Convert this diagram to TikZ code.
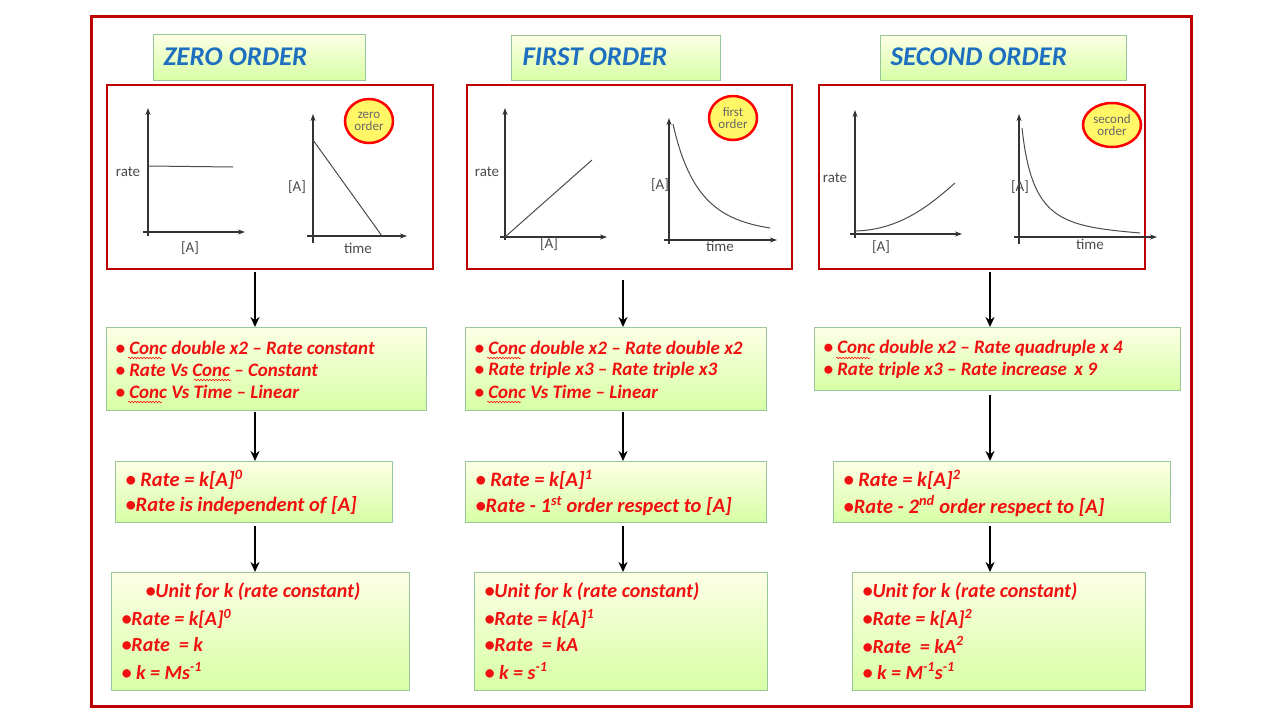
\documentclass[tikz,border=0pt]{standalone}
\usepackage{fontspec}
\setmainfont{Carlito}
\usetikzlibrary{arrows.meta,decorations.pathmorphing,shapes.geometric}
\definecolor{rd}{HTML}{C00000}
\definecolor{tx}{HTML}{F01010}
\definecolor{bl}{HTML}{1F6FC0}
\tikzset{
 gbox/.style={draw=green!45!black!40, top color=green!8!yellow!10, bottom color=green!45!yellow!35!white, anchor=north west, inner sep=0pt},
 rbox/.style={draw=rd, line width=2pt, fill=white, anchor=north west, inner sep=0pt},
 ttl/.style={font=\fontsize{27}{27}\selectfont\bfseries\itshape, text=bl},
 ln/.style={font=\fontsize{19}{19}\selectfont\bfseries\itshape, text=tx, anchor=west},
 lnb/.style={font=\fontsize{20.5}{20}\selectfont\bfseries\itshape, text=tx, anchor=west},
 lnc/.style={font=\fontsize{20}{20}\selectfont\bfseries\itshape, text=tx, anchor=west},
 arr/.style={-{Stealth[length=10pt,width=9pt]}, line width=2.2pt},
 ax/.style={-{Stealth[length=7pt,width=5pt]}, line width=1.2pt, black!80},
 crv/.style={line width=1pt, black!70},
 gl/.style={font=\fontsize{15}{15}\selectfont, text=black!70},
 circ/.style={ellipse, draw=red, line width=2.5pt, fill=yellow!60, inner sep=0pt, font=\fontsize{13}{12}\selectfont, text=black!60, align=center, minimum width=48pt, minimum height=44pt},
 wv/.style={draw=red, decorate, decoration={snake, amplitude=0.8pt, segment length=3pt}, line width=0.5pt}
}
\begin{document}
\begin{tikzpicture}[x=1pt,y=-1pt]
\useasboundingbox (0,0) rectangle (1280,720);
\node[draw=rd, line width=2.5pt, minimum width=1100pt, minimum height=690pt, anchor=north west] (frame) at (90,15) {};
% titles
\node[gbox, minimum width=212pt, minimum height=46pt] (t1) at (153,34) {};
\node[ttl, anchor=west] (tt1) at (160,57) {ZERO ORDER};
\node[gbox, minimum width=209pt, minimum height=45pt] (t2) at (511,35) {};
\node[ttl, anchor=west] (tt2) at (519,57) {FIRST ORDER};
\node[gbox, minimum width=246pt, minimum height=45pt] (t3) at (880,35) {};
\node[ttl, anchor=west] (tt3) at (887,57) {SECOND ORDER};
% graph boxes
\node[rbox, minimum width=326pt, minimum height=184pt] (g1) at (106,84) {};
\node[rbox, minimum width=325pt, minimum height=184pt] (g2) at (466,84) {};
\node[rbox, minimum width=326pt, minimum height=184pt] (g3) at (818,84) {};
% graph 1
\draw[ax] (148,236) -- (148,108);
\draw[ax] (143,232) -- (245,232);
\draw[crv] (148,166) -- (233,167);
\node[gl] (l1) at (128,172) {rate};
\node[gl] (l2) at (190,248) {[A]};
\draw[ax] (313,243) -- (313,114);
\draw[ax] (307,236) -- (407,236);
\draw[crv] (313,140) -- (382,236);
\node[gl] (l3) at (297,187) {[A]};
\node[gl] (l4) at (358,248) {time};
\node[circ] (c1) at (369,121) {zero\\order};
% graph 2
\draw[ax] (505,240) -- (505,108);
\draw[ax] (500,237) -- (607,237);
\draw[crv] (505,237) -- (592,160);
\node[gl] (l5) at (487,172) {rate};
\node[gl] (l6) at (549,244) {[A]};
\draw[ax] (669,244) -- (669,118);
\draw[ax] (664,240) -- (777,240);
\draw[crv] (673,124) .. controls (690,200) and (720,220) .. (770,228);
\node[gl] (l7) at (660,185) {[A]};
\node[gl] (l8) at (720,246) {time};
\node[circ] (c2) at (733,118) {first\\order};
% graph 3
\draw[ax] (855,238) -- (855,110);
\draw[ax] (850,234) -- (962,234);
\draw[crv] (855,231) .. controls (900,230) and (930,205) .. (955,183);
\node[gl] (l9) at (835,178) {rate};
\node[gl] (l10) at (881,247) {[A]};
\draw[ax] (1019,244) -- (1019,114);
\draw[ax] (1014,237) -- (1157,237);
\draw[crv] (1022,128) .. controls (1032,220) and (1060,226) .. (1140,233);
\node[gl] (l11) at (1020,187) {[A]};
\node[gl] (l12) at (1090,244) {time};
\node[circ, minimum width=58pt] (c3) at (1112,125) {second\\order};
% row 2
\node[gbox, minimum width=320pt, minimum height=83pt] (b1) at (106,327) {};
\node[ln] (b1a) at (112,348) {• Conc double x2 -- Rate constant};
\node[ln] (b1b) at (112,370) {• Rate Vs Conc -- Constant};
\node[ln] (b1c) at (112,392) {• Conc Vs Time -- Linear};
\node[gbox, minimum width=301pt, minimum height=83pt] (b2) at (465,327) {};
\node[ln] (b2a) at (471,348) {• Conc double x2 -- Rate double x2};
\node[ln] (b2b) at (471,370) {• Rate triple x3 -- Rate triple x3};
\node[ln] (b2c) at (471,392) {• Conc Vs Time -- Linear};
\node[gbox, minimum width=366pt, minimum height=63pt] (b3) at (814,327) {};
\node[ln] (b3a) at (820,348) {• Conc double x2 -- Rate quadruple x 4};
\node[ln] (b3b) at (820,370) {• Rate triple x3 -- Rate increase\, x 9};
\draw[wv] (128,358) -- (162,358);
\draw[wv] (194,380) -- (231,380);
\draw[wv] (128,402) -- (162,402);
\draw[wv] (487,358) -- (521,358);
\draw[wv] (487,402) -- (521,402);
\draw[wv] (836,358) -- (870,358);
% row 3
\node[gbox, minimum width=277pt, minimum height=61pt] (d1) at (115,461) {};
\node[lnb] (d1a) at (122,480) {• Rate = k[A]\textsuperscript{0}};
\node[lnb] (d1b) at (122,506) {•Rate is independent of [A]};
\node[gbox, minimum width=301pt, minimum height=61pt] (d2) at (465,461) {};
\node[lnb] (d2a) at (472,480) {• Rate = k[A]\textsuperscript{1}};
\node[lnb] (d2b) at (472,506) {•Rate - 1\textsuperscript{st} order respect to [A]};
\node[gbox, minimum width=337pt, minimum height=61pt] (d3) at (833,461) {};
\node[lnb] (d3a) at (840,480) {• Rate = k[A]\textsuperscript{2}};
\node[lnb] (d3b) at (840,506) {•Rate - 2\textsuperscript{nd} order respect to [A]};
% row 4
\node[gbox, minimum width=298pt, minimum height=118pt] (e1) at (111,572) {};
\node[lnc] (e1a) at (142,592) {•Unit for k (rate constant)};
\node[lnc] (e1b) at (118,619) {•Rate = k[A]\textsuperscript{0}};
\node[lnc] (e1c) at (118,645) {•Rate\ \ = k};
\node[lnc] (e1d) at (118,671) {• k = Ms\textsuperscript{-1}};
\node[gbox, minimum width=293pt, minimum height=118pt] (e2) at (474,572) {};
\node[lnc] (e2a) at (481,592) {•Unit for k (rate constant)};
\node[lnc] (e2b) at (481,619) {•Rate = k[A]\textsuperscript{1}};
\node[lnc] (e2c) at (481,645) {•Rate\ \ = kA};
\node[lnc] (e2d) at (481,671) {• k = s\textsuperscript{-1}};
\node[gbox, minimum width=293pt, minimum height=118pt] (e3) at (852,572) {};
\node[lnc] (e3a) at (859,592) {•Unit for k (rate constant)};
\node[lnc] (e3b) at (859,619) {•Rate = k[A]\textsuperscript{2}};
\node[lnc] (e3c) at (859,645) {•Rate\ \ = kA\textsuperscript{2}};
\node[lnc] (e3d) at (859,671) {• k = M\textsuperscript{-1}s\textsuperscript{-1}};
% arrows
\draw[arr] (255,272) -- (b1.north -| 255,0);
\draw[arr] (623,280) -- (b2.north -| 623,0);
\draw[arr] (990,272) -- (b3.north -| 990,0);
\draw[arr] (255,412) -- (d1.north -| 255,0);
\draw[arr] (623,412) -- (d2.north -| 623,0);
\draw[arr] (990,395) -- (d3.north -| 990,0);
\draw[arr] (255,526) -- (e1.north -| 255,0);
\draw[arr] (623,526) -- (e2.north -| 623,0);
\draw[arr] (990,526) -- (e3.north -| 990,0);
\end{tikzpicture}
\end{document}
